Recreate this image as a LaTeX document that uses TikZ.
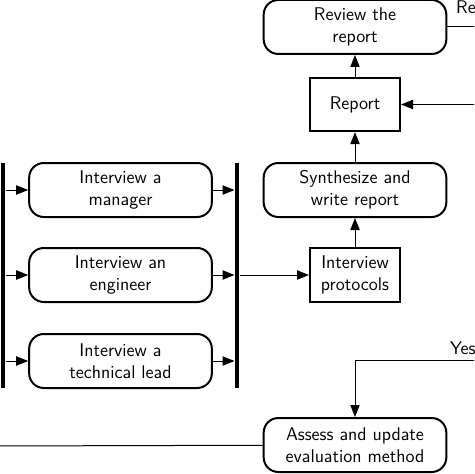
\documentclass[tikz,border=0pt]{standalone}
\usetikzlibrary{arrows.meta}

\tikzset{every picture/.style={line width=0.75pt}}
\tikzset{
  activity/.style={draw, line width=1.5pt, rounded corners=11pt, minimum width=137pt, minimum height=40.5pt, align=center, inner sep=1pt},
  artifact/.style={draw, line width=1.5pt, minimum width=67.5pt, minimum height=40pt, align=center, inner sep=1pt},
  syncbar/.style={fill=black, inner sep=0pt, minimum width=3pt, minimum height=169pt},
  flow/.style={-{Triangle[length=9pt,width=7pt]}},
}

\begin{document}
\begin{tikzpicture}[x=0.75pt,y=0.75pt,yscale=-1,xscale=1,font=\sffamily\fontsize{13.8}{16.5}\selectfont]

\clip (0,0) rectangle (474,474);

% synchronisation bars
\node [syncbar] (fork) at (3,275.5) {};
\node [syncbar] (join) at (237,275.5) {};

% interviews
\node [activity] (mgr) at (120.5,190) {Interview a\\manager};
\node [activity] (eng) at (120.5,275) {Interview an\\engineer};
\node [activity] (lead) at (120.5,361) {Interview a\\technical lead};

% right column
\node [activity] (review) at (355,27) {Review the\\report};
\node [artifact] (report) at (355,104.5) {Report};
\node [activity] (synth) at (355,190) {Synthesize and\\write report};
\node [artifact] (protocols) at (355,275) {Interview\\protocols};
\node [activity] (assess) at (355,445) {Assess and update\\evaluation method};

% outside ends
\coordinate (revout) at (480,27);
\coordinate (repin) at (480,104.5);
\coordinate (yesin) at (480,360);
\coordinate (assout) at (-10,446);

\draw [flow] (fork.east |- mgr) -- (mgr);
\draw [flow] (fork.east |- eng) -- (eng);
\draw [flow] (fork.east |- lead) -- (lead);
\draw [flow] (mgr) -- (join.west |- mgr);
\draw [flow] (eng) -- (join.west |- eng);
\draw [flow] (lead) -- (join.west |- lead);
\draw [flow] (join.east |- protocols) -- (protocols);

\draw [flow] (protocols) -- (synth);
\draw [flow] (synth) -- (report);
\draw [flow] (report) -- (review);
\draw [flow] (repin) -- (report);
\draw (review) -- (revout);
\draw [flow] (yesin) -- (yesin -| assess) -- (assess);
\draw (assess) -- (assout);

\node [anchor=south west, inner sep=0.5pt] (relabel) at (455,15) {Re};
\node [anchor=south west, inner sep=0.5pt] (yeslabel) at (449,356) {Yes};

\end{tikzpicture}
\end{document}
